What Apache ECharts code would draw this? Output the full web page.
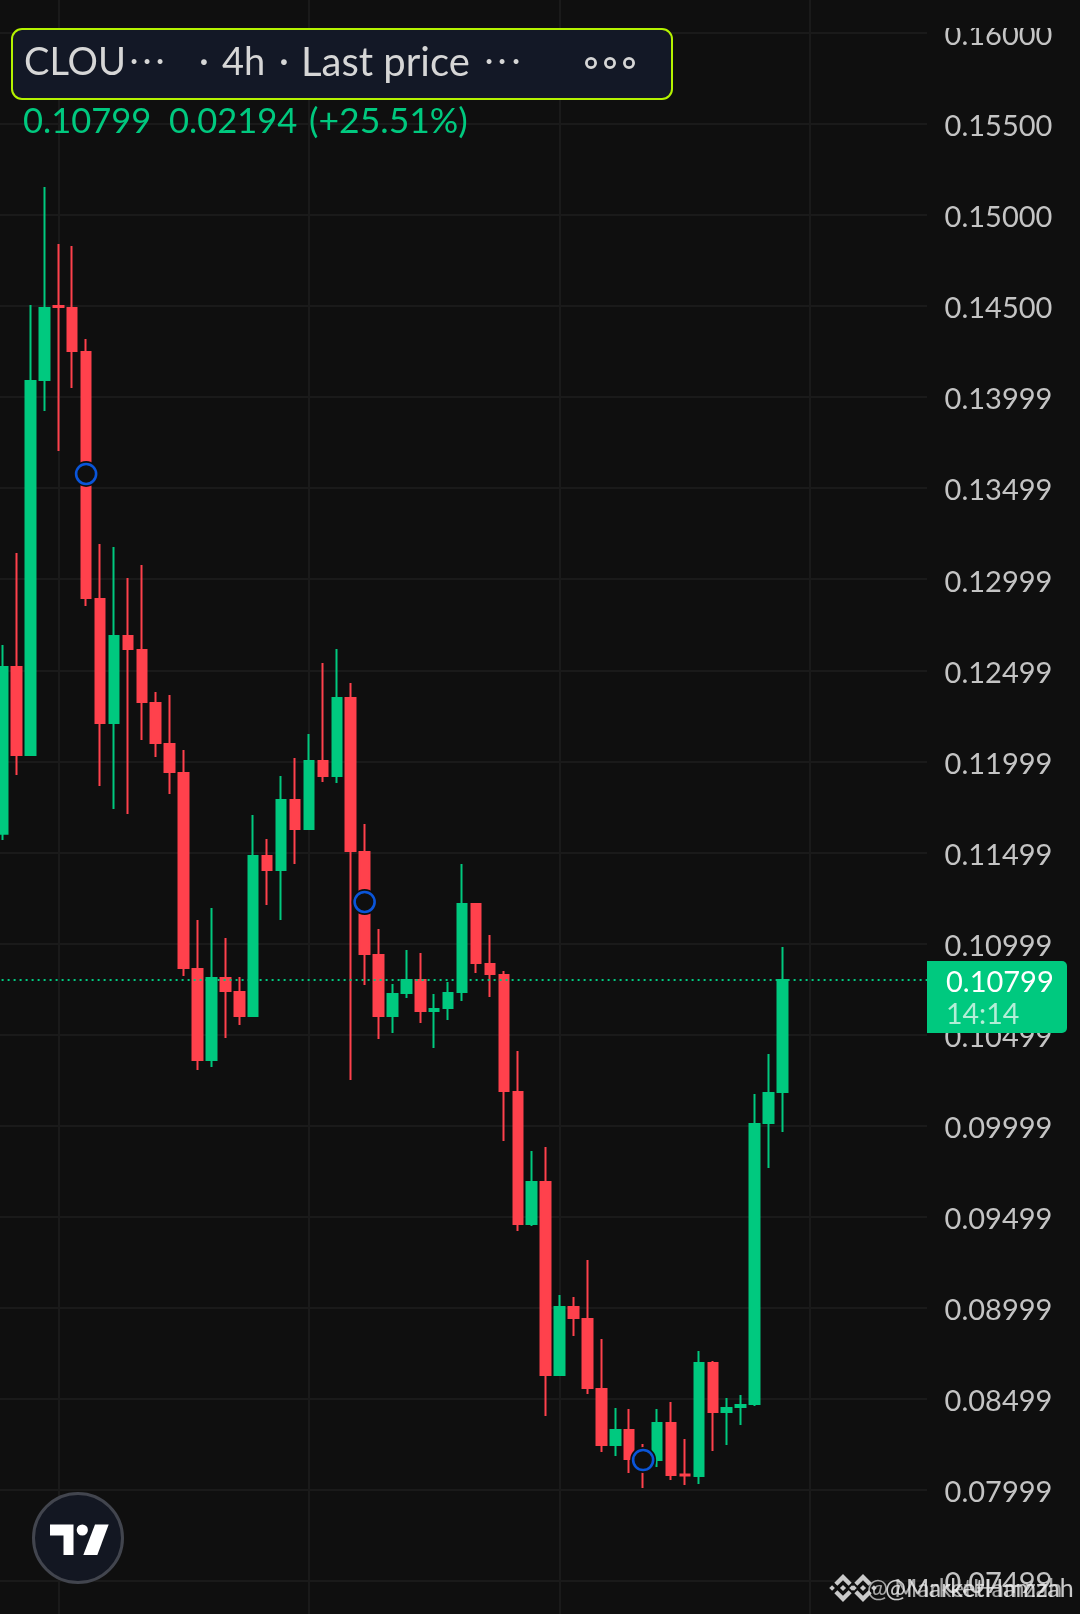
<!DOCTYPE html>
<html>
<head>
<meta charset="utf-8">
<script src="https://cdn.jsdelivr.net/npm/echarts@6/dist/echarts.min.js"></script>
<style>html,body{margin:0;padding:0;background:#0f0f0f}#c{width:1080px;height:1614px}</style>
</head>
<body>
<div id="c"></div>
<script>
const opens  = [0.11602,0.12518,0.12035,0.14094,0.14500,0.14489,0.14247,0.12891,0.12210,0.12688,0.12611,0.12320,0.12095,0.11936,0.10860,0.10360,0.10810,0.10733,0.10602,0.11480,0.11403,0.11788,0.11628,0.12002,0.11919,0.12348,0.11502,0.10937,0.10602,0.10728,0.10799,0.10629,0.10646,0.10733,0.11217,0.10887,0.10827,0.10184,0.09460,0.09690,0.08631,0.09004,0.08938,0.08554,0.08246,0.08329,0.08180,0.08164,0.08367,0.08084,0.08076,0.08696,0.08427,0.08455,0.08471,0.10014,0.10184];
const closes = [0.12518,0.12035,0.14088,0.14489,0.14495,0.14253,0.12897,0.12210,0.12688,0.12617,0.12326,0.12101,0.11941,0.10865,0.10360,0.10810,0.10739,0.10602,0.11480,0.11403,0.11788,0.11628,0.12002,0.11919,0.12348,0.11508,0.10942,0.10602,0.10722,0.10799,0.10629,0.10640,0.10728,0.11217,0.10893,0.10832,0.10190,0.09460,0.09690,0.08631,0.09004,0.08943,0.08559,0.08246,0.08329,0.08169,0.08153,0.08367,0.08082,0.08079,0.08696,0.08427,0.08449,0.08466,0.10009,0.10179,0.10799];
const highs  = [0.12639,0.13144,0.14505,0.15153,0.14840,0.14829,0.14319,0.13193,0.13177,0.13006,0.13078,0.12381,0.12364,0.12062,0.11129,0.11195,0.11030,0.10816,0.11705,0.11574,0.11919,0.12018,0.12150,0.12540,0.12617,0.12430,0.11656,0.11079,0.10777,0.10964,0.10948,0.10722,0.10788,0.11436,0.11222,0.11046,0.10849,0.10410,0.09860,0.09882,0.09070,0.09059,0.09262,0.08828,0.08449,0.08444,0.08252,0.08444,0.08482,0.08279,0.08762,0.08707,0.08504,0.08521,0.10173,0.10393,0.10980];
const lows   = [0.11568,0.11925,0.12029,0.13923,0.13704,0.14050,0.12853,0.11864,0.11738,0.11711,0.12117,0.12024,0.11821,0.10821,0.10305,0.10322,0.10481,0.10552,0.10596,0.11211,0.11129,0.11436,0.11623,0.11886,0.11881,0.10250,0.10772,0.10475,0.10508,0.10700,0.10563,0.10426,0.10580,0.10684,0.10838,0.10706,0.09915,0.09421,0.09449,0.08405,0.08625,0.08845,0.08526,0.08208,0.08186,0.08092,0.08010,0.08125,0.08054,0.08027,0.08032,0.08213,0.08246,0.08356,0.08460,0.09767,0.09965];
const tickLabels = ["0.07000","0.07499","0.07999","0.08499","0.08999","0.09499","0.09999","0.10499","0.10999","0.11499","0.11999","0.12499","0.12999","0.13499","0.13999","0.14500","0.15000","0.15500","0.16000","0.16500"];
const markerIndex = [6,26,46];
const markerPrice = [0.13578,0.11228,0.08164];
const lastPrice = 0.10799;
const headerParts = ["CLOU","·","4h","·","Last price"];
const quoteParts = ["0.10799","0.02194","(+25.51%)"];
const countdown = "14:14";

const BG='#0f0f0f',UP='#00c97f',DOWN='#ff414c',GRID='#1a1a1a',FONT='Lato';
const candles = opens.map((o,i)=>[o,closes[i],lows[i],highs[i]]);
const cats = Array.from({length:67},(_,i)=>String(i));
const markers = markerIndex.map((x,i)=>[x,markerPrice[i]]);

function binance(cx,cy,s,fill){
  const d=(x,y,r)=>({type:'polygon',z:60,silent:true,shape:{points:[[x,y-r],[x+r,y],[x,y+r],[x-r,y]]},style:{fill}});
  const chev=(sgn)=>({type:'polygon',z:60,silent:true,shape:{points:[[cx,cy-sgn*s],[cx+s*0.62,cy-sgn*s*0.38],[cx+s*0.4,cy-sgn*s*0.16],[cx,cy-sgn*s*0.56],[cx-s*0.4,cy-sgn*s*0.16],[cx-s*0.62,cy-sgn*s*0.38]]},style:{fill}});
  return [d(cx,cy,s*0.22),d(cx-s*0.78,cy,s*0.2),d(cx+s*0.78,cy,s*0.2),chev(1),chev(-1)];
}
const T=(x,y,text,font,fill,align)=>({type:'text',z:70,silent:true,style:{x,y,text,font,fill,textVerticalAlign:'middle',textAlign:align||'left'}});
const HF='38px '+FONT, HC='#d6d6d6', DOT='bold 26px '+FONT;
const dots=(xs,y)=>xs.map(x=>T(x,y,'·',DOT,HC,'center'));

const graphic=[
  {type:'rect',z:50,silent:true,shape:{x:927,y:0,width:3,height:1614},style:{fill:BG}},
  {type:'rect',z:50,silent:true,shape:{x:927,y:0,width:153,height:28},style:{fill:BG}},
  {type:'rect',z:55,silent:true,shape:{x:12,y:29,width:660,height:70,r:10},style:{fill:'#131826',stroke:'#b4f200',lineWidth:2}},
  T(24,63,headerParts[0],HF,HC),
  ...dots([134,147,160],62),
  T(204,62,headerParts[1],HF,HC,'center'),
  T(222,63,headerParts[2],HF,HC),
  T(284,62,headerParts[3],HF,HC,'center'),
  T(301,63,headerParts[4],'40px '+FONT,HC),
  ...dots([489,502,516],62),
  {type:'circle',z:60,silent:true,shape:{cx:591,cy:63,r:4.6},style:{fill:'none',stroke:HC,lineWidth:2.8}},
  {type:'circle',z:60,silent:true,shape:{cx:610,cy:63,r:4.6},style:{fill:'none',stroke:HC,lineWidth:2.8}},
  {type:'circle',z:60,silent:true,shape:{cx:629,cy:63,r:4.6},style:{fill:'none',stroke:HC,lineWidth:2.8}},
  T(23,122,quoteParts[0],'34.5px '+FONT,UP),
  T(169,122,quoteParts[1],'34.5px '+FONT,UP),
  T(309,122,quoteParts[2],'35.5px '+FONT,UP),
  {type:'rect',z:55,silent:true,shape:{x:927,y:961,width:140,height:72,r:[0,5,5,0]},style:{fill:UP}},
  T(946,983,lastPrice.toFixed(5),'29px '+FONT,'#ffffff'),
  T(946,1015,countdown,'28.5px '+FONT,'#b3eed7'),
  {type:'circle',z:55,silent:true,shape:{cx:78,cy:1538,r:44.5},style:{fill:'#131722',stroke:'#42454e',lineWidth:3}},
  {type:'polygon',z:60,silent:true,shape:{points:[[50,1524.5],[73.5,1524.5],[73.5,1555],[63.5,1555],[63.5,1535.5],[50,1535.5]]},style:{fill:'#fff'}},
  {type:'circle',z:60,silent:true,shape:{cx:82.3,cy:1530,r:5.6},style:{fill:'#fff'}},
  {type:'polygon',z:60,silent:true,shape:{points:[[95,1524.5],[108.7,1524.5],[97.3,1555],[83.3,1555]]},style:{fill:'#fff'}},
  ...binance(843,1588,14,'#c9c9c9'),
  ...binance(863,1588,14,'#c9c9c9'),
  T(867,1589,'@ MarketHamzah','25px '+FONT,'rgba(215,215,215,0.75)'),
  T(885,1589,'@MarketHamzah','25px '+FONT,'rgba(235,235,235,0.85)')
];

const chart=echarts.init(document.getElementById('c'),null,{renderer:'canvas'});
chart.setOption({
  animation:false,
  backgroundColor:BG,
  grid:{left:-4.4,width:933,top:-58.26,height:1730.25,containLabel:false,outerBoundsMode:'none'},
  xAxis:{type:'category',data:cats,boundaryGap:true,
    axisLine:{show:false},axisTick:{show:false},axisLabel:{show:false},
    splitLine:{show:true,alignWithLabel:true,interval:(i)=>(i-4)%18===0,lineStyle:{color:GRID,width:2}}},
  yAxis:{type:'value',position:'right',min:0.07,max:0.165,interval:0.005,scale:true,
    axisLine:{show:false},axisTick:{show:false},
    axisLabel:{show:true,margin:16,showMinLabel:true,showMaxLabel:true,
      formatter:(v)=>'{t|'+tickLabels[Math.round((v-0.07)/0.005)]+'}',
      rich:{t:{fontFamily:FONT,fontSize:29,color:'#c4c4c4',padding:[6,0,0,0]}}},
    splitLine:{show:true,lineStyle:{color:GRID,width:2}}},
  series:[
    {type:'candlestick',data:candles,barWidth:10,silent:true,
      itemStyle:{color:UP,color0:DOWN,borderColor:UP,borderColor0:DOWN,borderWidth:2},
      markLine:{silent:true,symbol:'none',animation:false,precision:5,label:{show:false},
        lineStyle:{color:UP,width:2,type:[2,4],opacity:1},data:[{yAxis:lastPrice}]}},
    {type:'scatter',data:markers,symbol:'circle',symbolSize:26,silent:true,z:4,itemStyle:{color:BG,opacity:1}},
    {type:'scatter',data:markers,symbol:'circle',symbolSize:20,silent:true,z:5,itemStyle:{color:BG,borderColor:'#0a55d9',borderWidth:2.6,opacity:1}}
  ],
  graphic:{elements:graphic}
});
</script>
</body>
</html>
